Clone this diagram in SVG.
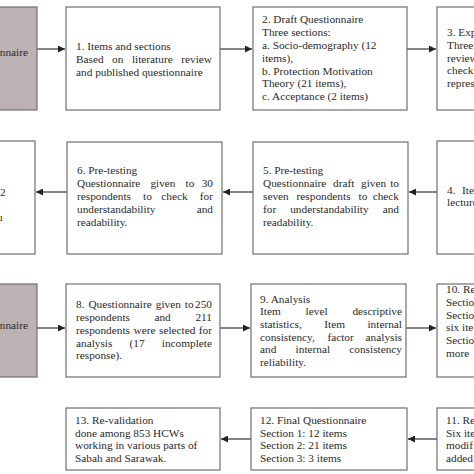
<svg xmlns="http://www.w3.org/2000/svg" width="474" height="474" viewBox="0 0 474 474">
<style>
.box{fill:#fff;stroke:#707070;stroke-width:1.2}
.grey{fill:#bcb2b4;stroke:#707070;stroke-width:1.2}
text{font-family:"Liberation Serif","Times New Roman",serif;font-size:11.3px;fill:#2a2a2a}
.e{text-anchor:end}
.conn line{stroke:#333;stroke-width:1.2;marker-end:url(#ah)}
</style>
<defs>
<marker id="ah" markerUnits="userSpaceOnUse" markerWidth="8" markerHeight="7" refX="7" refY="3.5" orient="auto">
<path d="M0,0 L7,3.5 L0,7 z" fill="#222"/>
</marker>
</defs>
<rect width="474" height="474" fill="#fff"/>

<g id="connectors" class="conn">
<line x1="37" y1="49" x2="65" y2="49"/>
<line x1="220" y1="49" x2="252" y2="49"/>
<line x1="407" y1="49" x2="436" y2="49"/>
<line x1="437" y1="192" x2="409" y2="192"/>
<line x1="253" y1="192" x2="223" y2="192"/>
<line x1="67" y1="192" x2="36" y2="192"/>
<line x1="37" y1="328" x2="65" y2="328"/>
<line x1="220" y1="328" x2="250" y2="328"/>
<line x1="406" y1="328" x2="436" y2="328"/>
<line x1="437" y1="439" x2="408" y2="439"/>
<line x1="251" y1="439" x2="221" y2="439"/>
</g>

<g id="node-start">
<rect class="grey" x="-5" y="7" width="42" height="103"/>
<text class="e" x="28" y="56">nnaire</text>
</g>

<g id="node-1">
<rect class="box" x="66" y="7" width="154" height="103"/>
<text x="76" y="50">1. Items and sections</text>
<text y="63"><tspan x="76">Based</tspan><tspan x="112.1">on</tspan><tspan x="131.9">literature</tspan><tspan x="212" class="e">review</tspan></text>
<text x="76" y="76">and published questionnaire</text>
</g>

<g id="node-2">
<rect class="box" x="253" y="7" width="154" height="103"/>
<text x="262" y="23">2. Draft Questionnaire</text>
<text x="262" y="36">Three sections:</text>
<text x="262" y="49">a. Socio-demography (12</text>
<text x="262" y="62">items),</text>
<text x="262" y="75">b. Protection Motivation</text>
<text x="262" y="87">Theory (21 items),</text>
<text x="262" y="100">c. Acceptance (2 items)</text>
</g>

<g id="node-3">
<rect class="box" x="437" y="7" width="45" height="103"/>
<text x="447" y="36">3. Exp</text>
<text x="447" y="49">Three</text>
<text x="447" y="62">review</text>
<text x="447" y="74">check.</text>
<text x="447" y="87">repres</text>
</g>

<g id="node-4">
<rect class="box" x="437" y="141" width="45" height="113"/>
<text y="194"><tspan x="447">4.</tspan><tspan x="462">Ite</tspan></text>
<text x="447" y="206">lecture</text>
</g>

<g id="node-5">
<rect class="box" x="253" y="142" width="155" height="112"/>
<text x="263" y="174">5. Pre-testing</text>
<text y="187"><tspan x="263">Questionnaire</tspan><tspan x="333">draft</tspan><tspan x="361">given</tspan><tspan x="399" class="e">to</tspan></text>
<text y="200"><tspan x="263">seven</tspan><tspan x="296.6">respondents</tspan><tspan x="358.5">to</tspan><tspan x="399" class="e">check</tspan></text>
<text y="213"><tspan x="263">for</tspan><tspan x="290.2">understandability</tspan><tspan x="399" class="e">and</tspan></text>
<text x="263" y="226">readability.</text>
</g>

<g id="node-6">
<rect class="box" x="67" y="142" width="155" height="112"/>
<text x="77" y="174">6. Pre-testing</text>
<text y="187"><tspan x="77">Questionnaire</tspan><tspan x="150.4">given</tspan><tspan x="185.5">to</tspan><tspan x="213" class="e">30</tspan></text>
<text y="200"><tspan x="77">respondents</tspan><tspan x="143">to</tspan><tspan x="161.3">check</tspan><tspan x="213" class="e">for</tspan></text>
<text y="213"><tspan x="77">understandability</tspan><tspan x="213" class="e">and</tspan></text>
<text x="77" y="226">readability.</text>
</g>

<g id="node-7">
<rect class="box" x="-5" y="141" width="40" height="113"/>
<text x="0" y="196">2</text>
<text x="-3" y="221">u</text>
</g>

<g id="node-start2">
<rect class="grey" x="-5" y="284" width="42" height="93"/>
<text class="e" x="28" y="329">nnaire</text>
</g>

<g id="node-8">
<rect class="box" x="66" y="284" width="154" height="93"/>
<text y="308"><tspan x="76">8.</tspan><tspan x="88.4">Questionnaire</tspan><tspan x="155.8">given</tspan><tspan x="184.8">to</tspan><tspan x="212" class="e">250</tspan></text>
<text y="321"><tspan x="76">respondents</tspan><tspan x="154.4">and</tspan><tspan x="212" class="e">211</tspan></text>
<text y="334"><tspan x="76">respondents</tspan><tspan x="133.5">were</tspan><tspan x="159">selected</tspan><tspan x="212" class="e">for</tspan></text>
<text y="347"><tspan x="76">analysis</tspan><tspan x="129.6">(17</tspan><tspan x="212" class="e">incomplete</tspan></text>
<text x="76" y="359">response).</text>
</g>

<g id="node-9">
<rect class="box" x="251" y="284" width="155" height="93"/>
<text x="260" y="303">9. Analysis</text>
<text y="315"><tspan x="260">Item</tspan><tspan x="305.6">level</tspan><tspan x="402" class="e">descriptive</tspan></text>
<text y="328"><tspan x="260">statistics,</tspan><tspan x="324.3">Item</tspan><tspan x="402" class="e">internal</tspan></text>
<text y="341"><tspan x="260">consistency,</tspan><tspan x="327.4">factor</tspan><tspan x="402" class="e">analysis</tspan></text>
<text y="353"><tspan x="260">and</tspan><tspan x="295.6">internal</tspan><tspan x="402" class="e">consistency</tspan></text>
<text x="260" y="366">reliability.</text>
</g>

<g id="node-10">
<rect class="box" x="437" y="284" width="45" height="93"/>
<text x="446" y="293">10. Re</text>
<text x="446" y="306">Sectio</text>
<text x="446" y="319">Sectio</text>
<text x="446" y="331">six ite</text>
<text x="446" y="344">Sectio</text>
<text x="446" y="357">more</text>
</g>

<g id="node-11">
<rect class="box" x="437" y="408" width="45" height="62"/>
<text x="446" y="424">11. Re</text>
<text x="446" y="437">Six ite</text>
<text x="446" y="449">modif</text>
<text x="446" y="462">added</text>
</g>

<g id="node-12">
<rect class="box" x="251" y="408" width="156" height="62"/>
<text x="260" y="424">12. Final Questionnaire</text>
<text x="260" y="437">Section 1: 12 items</text>
<text x="260" y="449">Section 2: 21 items</text>
<text x="260" y="462">Section 3: 3 items</text>
</g>

<g id="node-13">
<rect class="box" x="66" y="408" width="154" height="62"/>
<text x="75" y="424">13. Re-validation</text>
<text x="75" y="437">done among 853 HCWs</text>
<text x="75" y="449">working in various parts of</text>
<text x="75" y="462">Sabah and Sarawak.</text>
</g>
</svg>
